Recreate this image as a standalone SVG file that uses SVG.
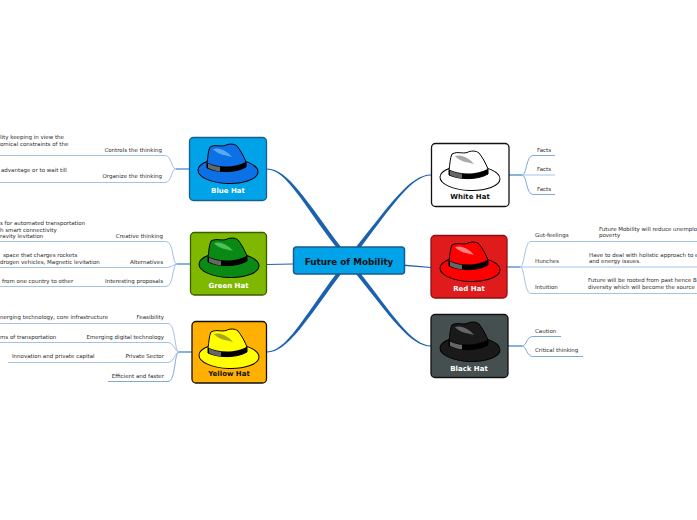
<svg xmlns="http://www.w3.org/2000/svg" xmlns:xlink="http://www.w3.org/1999/xlink" width="697" height="520" viewBox="0 0 697 520">
<style>
text{font-family:"DejaVu Sans","Liberation Sans",sans-serif}
.leaf{font-size:5.5px;fill:#2b2b2b}
.r{text-anchor:end}
.hl{font-size:7px;font-weight:bold;text-anchor:middle;fill:#fff}
.dk{fill:#111}
.box{stroke-width:1.3}
.main{fill:#1b62ae}
.stem{fill:none;stroke:#5f9bd3;stroke-width:1.6}
.br{fill:none;stroke:#a3c2e6;stroke-width:1}
.link{fill:none;stroke:#7fa9da;stroke-width:1}
.ol{stroke:#000;stroke-width:1}
.shine{fill:inherit}
</style>
<defs>
<g id="hat">
<ellipse class="ol" cx="0" cy="0" rx="30" ry="12.5" fill="currentColor" transform="rotate(2)"/>
<path class="ol" fill="currentColor" d="M-21,-8C-20,-14 -20,-20 -18,-24C-12,-27 -8,-24 -3,-25.500C1,-27.500 6,-27.500 9,-25C13,-20 16,-14 18,-9L18,-4C8,2 -10,2 -21,-3Z"/>
<path fill="#000" d="M-21,-8.500C-10,-3 8,-3 18,-9.500L18,-4C8,2 -10,2 -21,-3Z"/>
<path fill="#666" d="M-20,-7.500C-16,-5.500 -12,-4.600 -8,-4.200L-8,0.400C-12,0 -16,-1 -20,-3Z"/>
<path class="shine" d="M-15,-22C-8,-24 -1,-20 4,-14C-4,-16 -11,-17 -15,-22Z"/>
</g>
</defs>
<g id="connectors">
<path class="main" d="M336,247L341,247C307,202 288,168.500 267,168.500V169.500C286,169.500 303,204 336,247Z"/>
<path class="main" d="M293,263.500L267,264V265L293,264.500Z"/>
<path class="main" d="M336,274L341,274C307,319 288,352.500 267,352.500V351.500C286,351.500 303,318 336,274Z"/>
<path class="main" d="M356,247L361,247C393,205 412,175.500 431,175.500V174.500C410,174.500 390,205 356,247Z"/>
<path class="main" d="M404,264.500L431,267V268L404,266Z"/>
<path class="main" d="M356,274L361,274C393,315 412,345.500 431,345.500V346.500C410,346.500 390,316 356,274Z"/>
<path class="stem" d="M189,169H176M190,264H177M192,352H179M509,175H522M507,267H520M508,346H522"/>
<path class="br" d="M176,169C171,169 172,155.500 165,155.500H0M176,169C171,169 172,182.500 165,182.500H0"/>
<path class="br" d="M177,264C172,264 174,241.500 166,241.500H0M177,264C174,264 172,267.500 166,267.500H0M177,264C172,264 174,286.500 166,286.500H0"/>
<path class="br" d="M179,352C174,352 176,323.500 168,323.500H0M179,352C175,352 174,342.500 168,342.500H0M179,352C175,352 174,362.500 168,362.500H8"/>
<path class="link" d="M179,352C174,352 176,381.500 168,381.500H108"/>
<path class="link" d="M522,175C527,175 526,155.500 533,155.500H555M522,175C527,175 526,194.500 533,194.500H555"/>
<path class="br" d="M522,175H555"/>
<path class="br" d="M520,267C525,267 524,241.500 531,241.500H697M520,267H697M520,267C525,267 524,293.500 531,293.500H697"/>
<path class="link" d="M522,346C527,346 526,336.500 533,336.500H561M522,346C527,346 526,356.500 533,356.500H583"/>
</g>
<g id="center">
<rect x="293.500" y="247" width="111" height="27" rx="3" fill="#00a2e8" stroke="#1e5a8c" stroke-width="1.500"/>
<text x="349" y="264.500" font-size="8.800" font-weight="bold" text-anchor="middle" fill="#111">Future of Mobility</text>
</g>
<g id="blue-hat">
<rect class="box" x="189.500" y="137.500" width="77" height="63" rx="4" fill="#00a2e8" stroke="#16608f"/>
<use xlink:href="#hat" href="#hat" x="228" y="171" style="color:#0c70e6;fill:#5aa8f5"/>
<text class="hl" x="228" y="193">Blue Hat</text>
</g>
<g id="green-hat">
<rect class="box" x="190.500" y="232.500" width="76" height="62.500" rx="4" fill="#7fb800" stroke="#3d5c00"/>
<use xlink:href="#hat" href="#hat" x="229" y="265" style="color:#0a8a14;fill:#4cc05a"/>
<text class="hl" x="228.500" y="288">Green Hat</text>
</g>
<g id="yellow-hat">
<rect class="box" x="192" y="321.500" width="74.500" height="61.500" rx="4" fill="#ffb000" stroke="#111"/>
<use xlink:href="#hat" href="#hat" x="229" y="356" style="color:#ffff00;fill:#a8a820"/>
<text class="hl dk" x="229" y="376">Yellow Hat</text>
</g>
<g id="white-hat">
<rect class="box" x="431.500" y="143.500" width="77.500" height="63" rx="4" fill="#fff" stroke="#111"/>
<use xlink:href="#hat" href="#hat" x="470" y="178" style="color:#ffffff;fill:#aaaaaa"/>
<text class="hl dk" x="470" y="199">White Hat</text>
</g>
<g id="red-hat">
<rect class="box" x="431" y="235.500" width="76" height="62.500" rx="4" fill="#e01b1b" stroke="#8a1010"/>
<use xlink:href="#hat" href="#hat" x="470" y="269" style="color:#ff0000;fill:#ff8080"/>
<text class="hl" x="469" y="291">Red Hat</text>
</g>
<g id="black-hat">
<rect class="box" x="431" y="314.500" width="77" height="63" rx="4" fill="#454f4f" stroke="#111"/>
<use xlink:href="#hat" href="#hat" x="470" y="349" style="color:#1a1a1a;fill:#666666"/>
<text class="hl" x="469" y="371">Black Hat</text>
</g>
<g id="blue-leaves">
<g id="controls"><text class="leaf r" x="162" y="152">Controls the thinking</text><text class="leaf" x="0" y="138.500">lity keeping in view the</text><text class="leaf" x="0" y="146">omical constraints of the</text></g>
<g id="organize"><text class="leaf r" x="162" y="178">Organize the thinking</text><text class="leaf" x="1" y="172">advantage or to wait till</text></g>
</g>
<g id="green-leaves">
<g id="creative"><text class="leaf r" x="163" y="238">Creative thinking</text><text class="leaf" x="0" y="225">s for automated transportation</text><text class="leaf" x="0" y="231.500">h smart connectivity</text><text class="leaf" x="0" y="238">ravity levitation</text></g>
<g id="alternatives"><text class="leaf r" x="163" y="264">Alternatives</text><text class="leaf" x="3" y="257">space that charges rockets</text><text class="leaf" x="0" y="264">drogen vehicles, Magnetic levitation</text></g>
<g id="interesting"><text class="leaf r" x="163" y="283">Interesting proposals</text><text class="leaf" x="2" y="283">from one country to other</text></g>
</g>
<g id="yellow-leaves">
<g id="feasibility"><text class="leaf r" x="164" y="319">Feasibility</text><text class="leaf" x="0" y="319">nerging technology, core infrastructure</text></g>
<g id="emerging"><text class="leaf r" x="164" y="339">Emerging digital technology</text><text class="leaf" x="0" y="339">ms of transportation</text></g>
<g id="private"><text class="leaf r" x="164" y="358">Private Sector</text><text class="leaf" x="12" y="358">Innovation and private capital</text></g>
<g id="efficient"><text class="leaf r" x="164" y="378">Efficient and faster</text></g>
</g>
<g id="white-leaves">
<g id="facts1"><text class="leaf" x="537" y="152">Facts</text></g>
<g id="facts2"><text class="leaf" x="537" y="171">Facts</text></g>
<g id="facts3"><text class="leaf" x="537" y="191">Facts</text></g>
</g>
<g id="red-leaves">
<g id="gut"><text class="leaf" x="535" y="237">Gut-feelings</text><text class="leaf" x="599" y="231">Future Mobility will reduce unemplo</text><text class="leaf" x="599" y="237">poverty</text></g>
<g id="hunches"><text class="leaf" x="535" y="263">Hunches</text><text class="leaf" x="589" y="257">Have to deal with holistic approach to e</text><text class="leaf" x="589" y="263">and energy issues.</text></g>
<g id="intuition"><text class="leaf" x="535" y="289">Intuition</text><text class="leaf" x="588" y="282">Future will be rooted from past hence B</text><text class="leaf" x="588" y="289">diversity which will become the source</text></g>
</g>
<g id="black-leaves">
<g id="caution"><text class="leaf" x="535" y="333">Caution</text></g>
<g id="critical"><text class="leaf" x="535" y="352">Critical thinking</text></g>
</g>
</svg>
